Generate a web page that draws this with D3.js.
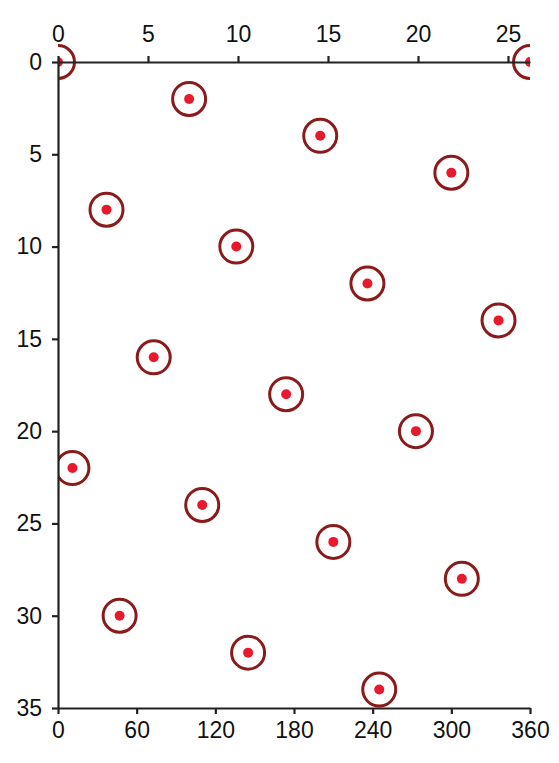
<!DOCTYPE html>
<html><head><meta charset="utf-8">
<script src="https://cdn.jsdelivr.net/npm/d3@7"></script>
<style>body{margin:0;background:#fff}</style></head>
<body><svg id="c" width="559" height="763"></svg>
<script>
const angles = [0,360,100,200,300,37,136,236,336,73,174,273,11,110,210,308,47,145,245];
const depths = [0,0,2,4,6,8,10,12,14,16,18,20,22,24,26,28,30,32,34];
const bottomTicks = [0,60,120,180,240,300,360];
const topTicks = [0,5,10,15,20,25];
const leftTicks = [0,5,10,15,20,25,30,35];

const svg = d3.select("#c");
const L=58,R=530,T=62,B=708;
const x = d3.scaleLinear().domain([0,360]).range([L,R]);
const xt = d3.scaleLinear().domain([0,(R-L)/18]).range([L,R]);
const y = d3.scaleLinear().domain([0,35]).range([T,B]);

svg.append("defs").append("clipPath").attr("id","cp").append("rect")
  .attr("x",L).attr("y",0).attr("width",R-L).attr("height",763);

const g = svg.append("g").attr("clip-path","url(#cp)");
const data = angles.map((a,i)=>({a,d:depths[i]}));
g.selectAll(".ring").data(data).enter().append("circle")
  .attr("cx",d=>x(d.a)).attr("cy",d=>y(d.d)).attr("r",16.5)
  .attr("fill","#fff").attr("stroke","#8b1a1a").attr("stroke-width",3);
g.selectAll(".dot").data(data).enter().append("circle")
  .attr("cx",d=>x(d.a)).attr("cy",d=>y(d.d)).attr("r",5)
  .attr("fill","#e8192c");

function style(ax){
  ax.selectAll("path,line").attr("stroke","#222").attr("stroke-width",2.2);
  ax.selectAll("text").attr("font-family","Arial, Liberation Sans, sans-serif").attr("font-size",23).attr("fill","#111");
}
style(svg.append("g").attr("transform",`translate(0,${B})`)
  .call(d3.axisBottom(x).tickValues(bottomTicks).tickSize(6).tickSizeOuter(0).tickPadding(8)));
style(svg.append("g").attr("transform",`translate(0,${T})`)
  .call(d3.axisTop(xt).tickValues(topTicks).tickSize(6).tickSizeOuter(0).tickPadding(14)));
style(svg.append("g").attr("transform",`translate(${L},0)`)
  .call(d3.axisLeft(y).tickValues(leftTicks).tickSize(6).tickSizeOuter(0).tickPadding(10)));
</script></body></html>
